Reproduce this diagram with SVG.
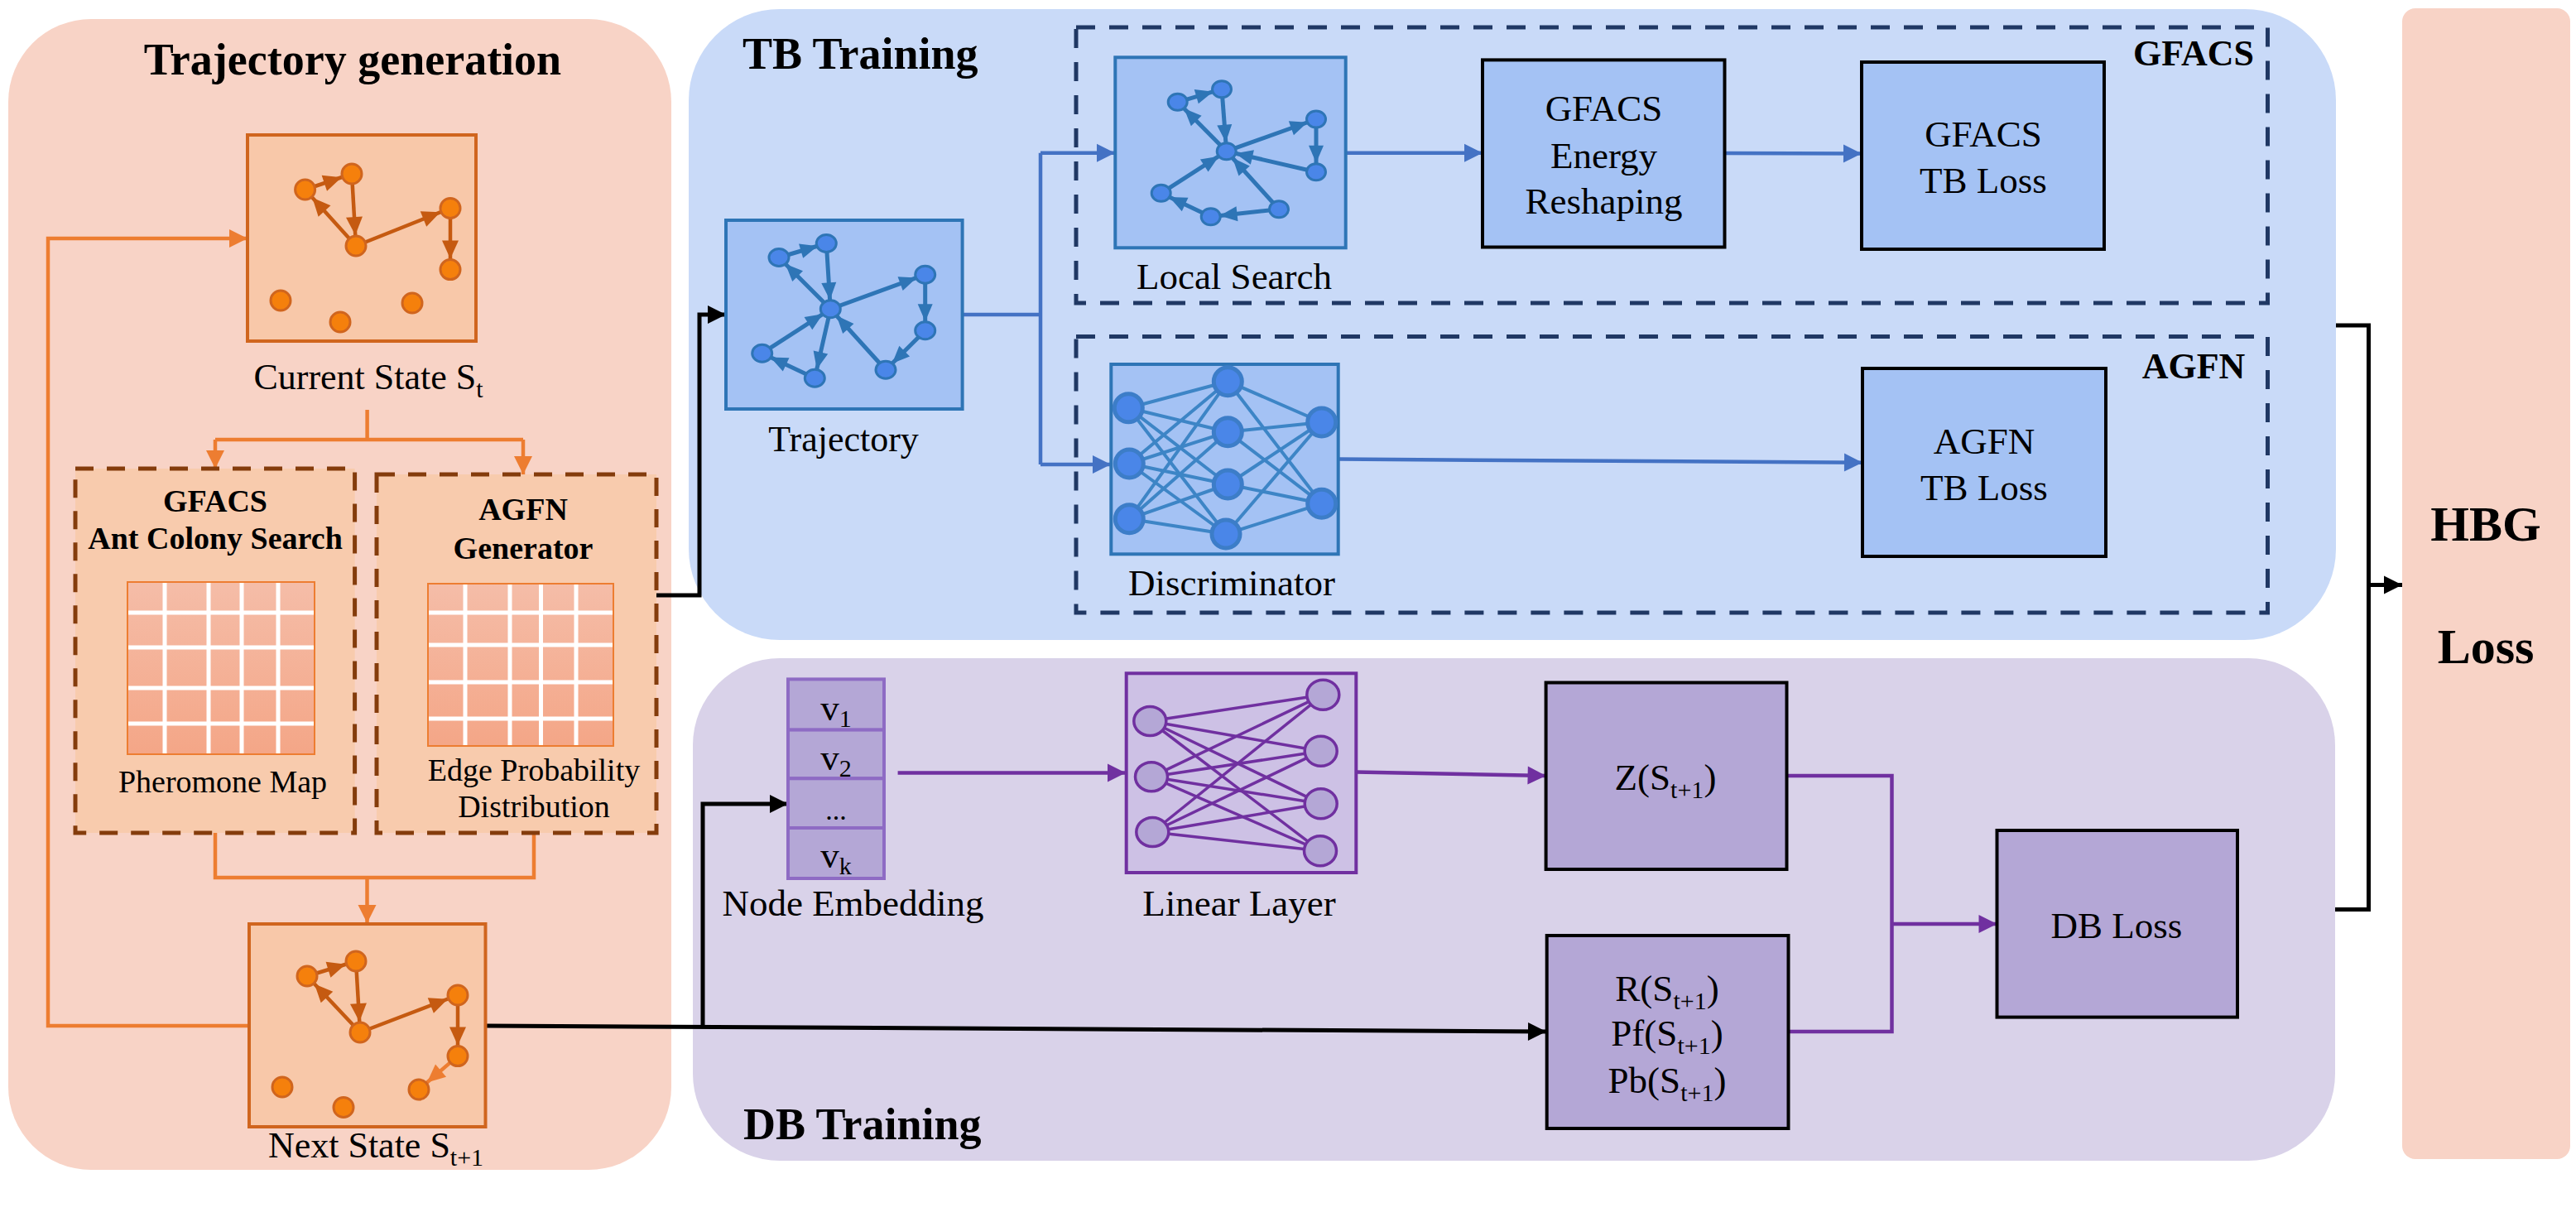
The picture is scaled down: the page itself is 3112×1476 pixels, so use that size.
<svg xmlns="http://www.w3.org/2000/svg" width="3112" height="1476" viewBox="0 0 3112 1476">
<defs>
<style>
.t{font-family:"Liberation Serif","Times New Roman",serif;fill:#000;}
.b{font-weight:bold;}
.c{text-anchor:middle;}
.panelP{fill:#F8D3C6;}
.panelB{fill:#C9DAF8;}
.panelV{fill:#D9D2E9;}
.state{fill:#F8C8A9;stroke:#D0651E;stroke-width:4;}
.on{fill:#F5800C;stroke:#D0651E;stroke-width:3;}
.oe{stroke:#C55A11;stroke-width:4.5;marker-end:url(#gO);}
.dashO{fill:#F8CBAD;stroke:#843C0C;stroke-width:5;stroke-dasharray:22 16;}
.dashN{fill:none;stroke:#203864;stroke-width:5;stroke-dasharray:23 17;}
.grid{fill:url(#gridG);stroke:#ED7D31;stroke-width:2;}
.gl{stroke:#fff;stroke-width:5;}
.bbox{fill:#A4C2F4;stroke:#2E75B6;stroke-width:4;}
.kbox{fill:#A4C2F4;stroke:#000;stroke-width:4;}
.bn{fill:#4A86E8;stroke:#2E75B6;stroke-width:3;}
.be{stroke:#2E75B6;stroke-width:5;marker-end:url(#gB);}
.dn{fill:#4A86E8;stroke:#3C7DC8;stroke-width:5;}
.de{stroke:#3D85C6;stroke-width:4;}
.vbox{fill:#B4A7D6;stroke:#000;stroke-width:4;}
.emb{fill:#B4A7D6;stroke:#8E6BC4;stroke-width:4;}
.ln{fill:#B4A7D6;stroke:#7030A0;stroke-width:3.5;}
.le{stroke:#7030A0;stroke-width:3.5;}
.cO{fill:none;stroke:#ED7D31;stroke-width:4.5;}
.cK{fill:none;stroke:#000;stroke-width:5;}
.cB{fill:none;stroke:#4472C4;stroke-width:4.5;}
.cV{fill:none;stroke:#7030A0;stroke-width:4.5;}
</style>
<linearGradient id="gridG" x1="0" y1="0" x2="0" y2="1">
<stop offset="0" stop-color="#F5BDA8"/>
<stop offset="1" stop-color="#F4A687"/>
</linearGradient>
<marker id="aO" markerUnits="userSpaceOnUse" markerWidth="22" markerHeight="22" refX="22" refY="11" orient="auto" overflow="visible"><path d="M0,0 L22,11 L0,22 z" fill="#ED7D31"/></marker>
<marker id="aK" markerUnits="userSpaceOnUse" markerWidth="22" markerHeight="22" refX="22" refY="11" orient="auto" overflow="visible"><path d="M0,0 L22,11 L0,22 z" fill="#000"/></marker>
<marker id="aB" markerUnits="userSpaceOnUse" markerWidth="22" markerHeight="22" refX="22" refY="11" orient="auto" overflow="visible"><path d="M0,0 L22,11 L0,22 z" fill="#4472C4"/></marker>
<marker id="aV" markerUnits="userSpaceOnUse" markerWidth="22" markerHeight="22" refX="22" refY="11" orient="auto" overflow="visible"><path d="M0,0 L22,11 L0,22 z" fill="#7030A0"/></marker>
<marker id="gO" markerUnits="userSpaceOnUse" markerWidth="22" markerHeight="20" refX="35" refY="10" orient="auto" overflow="visible"><path d="M0,0 L22,10 L0,20 z" fill="#C55A11"/></marker>
<marker id="gO2" markerUnits="userSpaceOnUse" markerWidth="22" markerHeight="20" refX="35" refY="10" orient="auto" overflow="visible"><path d="M0,0 L22,10 L0,20 z" fill="#ED7D31"/></marker>
<marker id="gB" markerUnits="userSpaceOnUse" markerWidth="21" markerHeight="18" refX="32" refY="9" orient="auto" overflow="visible"><path d="M0,0 L21,9 L0,18 z" fill="#2E75B6"/></marker>
</defs>
<rect width="3112" height="1476" fill="#fff"/>

<g id="panels">
<rect class="panelP" x="10" y="23" width="801" height="1390" rx="100"/>
<rect class="panelB" x="832" y="11" width="1990" height="762" rx="110"/>
<rect class="panelV" x="837" y="795" width="1984" height="607" rx="105"/>
<rect class="panelP" x="2902" y="10" width="203" height="1390" rx="16"/>
<text class="t b c" x="426" y="90" font-size="54">Trajectory generation</text>
<text class="t b" x="897" y="83" font-size="54">TB Training</text>
<text class="t b" x="898" y="1376" font-size="54">DB Training</text>
</g>

<g id="connectors">
<path class="cO" d="M443.6,495 V531 M260,531 H632"/>
<path class="cO" d="M260,531 V566" marker-end="url(#aO)"/>
<path class="cO" d="M632,531 V573" marker-end="url(#aO)"/>
<path class="cO" d="M260,1006 V1060 H645 V1006"/>
<path class="cO" d="M443.5,1060 V1115" marker-end="url(#aO)"/>
<path class="cO" d="M301,1239 H58 V288 H299" marker-end="url(#aO)"/>
<path class="cK" d="M793,719 H845 V380 H877" marker-end="url(#aK)"/>
<path class="cK" d="M586.5,1239 L1868,1246" marker-end="url(#aK)"/>
<path class="cK" d="M849,1240 V971 H952" marker-end="url(#aK)"/>
<path class="cK" d="M2822,393 H2861.5 V1098.5 H2821"/>
<path class="cK" d="M2861.5,706.6 H2902" marker-end="url(#aK)"/>
<path class="cB" d="M1162.6,380 H1257 M1257,184.7 V561"/>
<path class="cB" d="M1257,184.7 H1347" marker-end="url(#aB)"/>
<path class="cB" d="M1257,561 H1342" marker-end="url(#aB)"/>
<path class="cB" d="M1625.7,184.7 H1791" marker-end="url(#aB)"/>
<path class="cB" d="M2083.5,185 L2249,185.5" marker-end="url(#aB)"/>
<path class="cB" d="M1616.7,554.6 L2250,558.7" marker-end="url(#aB)"/>
<path class="cV" d="M1084.6,933.6 H1360" marker-end="url(#aV)"/>
<path class="cV" d="M1638,932.6 L1867.6,937" marker-end="url(#aV)"/>
<path class="cV" d="M2158.5,937 H2285.5 V1246 H2160.5"/>
<path class="cV" d="M2285.5,1116 H2412.5" marker-end="url(#aV)"/>
</g>

<g id="current-state">
<rect class="state" x="299" y="163" width="276" height="249"/>
<line class="oe" x1="368.6" y1="229" x2="425" y2="210"/>
<line class="oe" x1="425" y1="210" x2="430" y2="297"/>
<line class="oe" x1="430" y1="297" x2="368.6" y2="229"/>
<line class="oe" x1="430" y1="297" x2="544" y2="251.5"/>
<line class="oe" x1="544" y1="251.5" x2="544" y2="325.6"/>
<circle class="on" cx="368.6" cy="229" r="12"/>
<circle class="on" cx="425" cy="210" r="12"/>
<circle class="on" cx="544" cy="251.5" r="12"/>
<circle class="on" cx="430" cy="297" r="12"/>
<circle class="on" cx="544" cy="325.6" r="12"/>
<circle class="on" cx="339" cy="363" r="12"/>
<circle class="on" cx="411" cy="389" r="12"/>
<circle class="on" cx="498" cy="366" r="12"/>
<text class="t c" x="445" y="470" font-size="44">Current State S<tspan font-size="30" dy="10">t</tspan></text>
</g>

<g id="gfacs-ant-colony">
<rect class="dashO" x="91" y="566" width="337.6" height="440"/>
<text class="t b c" x="260" y="618" font-size="38">GFACS</text>
<text class="t b c" x="260" y="663" font-size="38">Ant Colony Search</text>
<rect class="grid" x="154" y="703" width="226" height="208"/>
<path class="gl" d="M199,704 V910 M252,704 V910 M292,704 V910 M336,704 V910 M155,740 H379 M155,782 H379 M155,831 H379 M155,874 H379"/>
<text class="t c" x="269" y="957" font-size="38">Pheromone Map</text>
</g>

<g id="agfn-generator">
<rect class="dashO" x="455" y="573" width="338" height="433"/>
<text class="t b c" x="632" y="628" font-size="38">AGFN</text>
<text class="t b c" x="632" y="675" font-size="38">Generator</text>
<rect class="grid" x="517" y="705" width="224" height="196"/>
<path class="gl" d="M562,706 V900 M616,706 V900 M653.5,706 V900 M696,706 V900 M518,740 H740 M518,779 H740 M518,824 H740 M518,868 H740"/>
<text class="t c" x="645" y="943" font-size="38">Edge Probability</text>
<text class="t c" x="645" y="987" font-size="38">Distribution</text>
</g>

<g id="next-state">
<rect class="state" x="301" y="1116" width="285.5" height="245"/>
<line class="oe" x1="371" y1="1179" x2="430" y2="1161"/>
<line class="oe" x1="430" y1="1161" x2="435" y2="1247"/>
<line class="oe" x1="435" y1="1247" x2="371" y2="1179"/>
<line class="oe" x1="435" y1="1247" x2="553" y2="1202"/>
<line class="oe" x1="553" y1="1202" x2="553" y2="1275.6"/>
<line x1="553" y1="1275.6" x2="506" y2="1316" stroke="#ED7D31" stroke-width="4.5" marker-end="url(#gO2)"/>
<circle class="on" cx="371" cy="1179" r="12"/>
<circle class="on" cx="430" cy="1161" r="12"/>
<circle class="on" cx="553" cy="1202" r="12"/>
<circle class="on" cx="435" cy="1247" r="12"/>
<circle class="on" cx="553" cy="1275.6" r="12"/>
<circle class="on" cx="341" cy="1313" r="12"/>
<circle class="on" cx="415" cy="1337.5" r="12"/>
<circle class="on" cx="506" cy="1316" r="12"/>
<text class="t c" x="454" y="1398" font-size="44">Next State S<tspan font-size="30" dy="10">t+1</tspan></text>
</g>

<g id="trajectory">
<rect class="bbox" x="877" y="266" width="285.6" height="228"/>
<line class="be" x1="941" y1="311" x2="998.3" y2="294"/>
<line class="be" x1="998.3" y1="294" x2="1003.3" y2="373.3"/>
<line class="be" x1="1003.3" y1="373.3" x2="941" y2="311"/>
<line class="be" x1="1003.3" y1="373.3" x2="1117.7" y2="331.7"/>
<line class="be" x1="1117.7" y1="331.7" x2="1117.7" y2="399.3"/>
<line class="be" x1="1117.7" y1="399.3" x2="1070" y2="446.7"/>
<line class="be" x1="1070" y1="446.7" x2="1003.3" y2="373.3"/>
<line class="be" x1="1003.3" y1="373.3" x2="984.3" y2="456.7"/>
<line class="be" x1="984.3" y1="456.7" x2="920.7" y2="426.7"/>
<line class="be" x1="920.7" y1="426.7" x2="1003.3" y2="373.3"/>
<ellipse class="bn" cx="941" cy="311" rx="12" ry="10.5"/>
<ellipse class="bn" cx="998.3" cy="294" rx="12" ry="10.5"/>
<ellipse class="bn" cx="1003.3" cy="373.3" rx="12" ry="10.5"/>
<ellipse class="bn" cx="1117.7" cy="331.7" rx="12" ry="10.5"/>
<ellipse class="bn" cx="1117.7" cy="399.3" rx="12" ry="10.5"/>
<ellipse class="bn" cx="1070" cy="446.7" rx="12" ry="10.5"/>
<ellipse class="bn" cx="984.3" cy="456.7" rx="12" ry="10.5"/>
<ellipse class="bn" cx="920.7" cy="426.7" rx="12" ry="10.5"/>
<text class="t c" x="1019" y="545" font-size="44">Trajectory</text>
</g>

<g id="gfacs-group">
<rect class="dashN" x="1300" y="33" width="1439.5" height="333"/>
<text class="t b c" x="2650" y="79" font-size="44">GFACS</text>
</g>

<g id="agfn-group">
<rect class="dashN" x="1300" y="406.6" width="1439.5" height="333.4"/>
<text class="t b c" x="2650" y="457" font-size="44">AGFN</text>
</g>

<g id="local-search">
<rect class="bbox" x="1347.3" y="69.3" width="278.4" height="230"/>
<line class="be" x1="1422.7" y1="123.3" x2="1476" y2="107.7"/>
<line class="be" x1="1476" y1="107.7" x2="1481.7" y2="182.7"/>
<line class="be" x1="1481.7" y1="182.7" x2="1422.7" y2="123.3"/>
<line class="be" x1="1481.7" y1="182.7" x2="1590" y2="144"/>
<line class="be" x1="1590" y1="144" x2="1590" y2="207.7"/>
<line class="be" x1="1590" y1="207.7" x2="1481.7" y2="182.7"/>
<line class="be" x1="1545" y1="252.7" x2="1481.7" y2="182.7"/>
<line class="be" x1="1545" y1="252.7" x2="1462.7" y2="261.7"/>
<line class="be" x1="1462.7" y1="261.7" x2="1402.7" y2="233.3"/>
<line class="be" x1="1402.7" y1="233.3" x2="1481.7" y2="182.7"/>
<ellipse class="bn" cx="1422.7" cy="123.3" rx="11.5" ry="10"/>
<ellipse class="bn" cx="1476" cy="107.7" rx="11.5" ry="10"/>
<ellipse class="bn" cx="1481.7" cy="182.7" rx="11.5" ry="10"/>
<ellipse class="bn" cx="1590" cy="144" rx="11.5" ry="10"/>
<ellipse class="bn" cx="1590" cy="207.7" rx="11.5" ry="10"/>
<ellipse class="bn" cx="1545" cy="252.7" rx="11.5" ry="10"/>
<ellipse class="bn" cx="1462.7" cy="261.7" rx="11.5" ry="10"/>
<ellipse class="bn" cx="1402.7" cy="233.3" rx="11.5" ry="10"/>
<text class="t c" x="1491" y="349" font-size="45">Local Search</text>
</g>

<g id="gfacs-energy-reshaping">
<rect class="kbox" x="1791" y="72.4" width="292.5" height="226.1"/>
<text class="t c" x="1937.5" y="146.4" font-size="45">GFACS</text>
<text class="t c" x="1937.5" y="203" font-size="45">Energy</text>
<text class="t c" x="1937.5" y="257.7" font-size="45">Reshaping</text>
</g>

<g id="gfacs-tb-loss">
<rect class="kbox" x="2249" y="75" width="293" height="226"/>
<text class="t c" x="2396" y="177" font-size="45">GFACS</text>
<text class="t c" x="2396" y="233" font-size="45">TB Loss</text>
</g>

<g id="discriminator">
<rect class="bbox" x="1342.3" y="440" width="274.4" height="229.3"/>
<g class="de">
<line x1="1363.3" y1="492.7" x2="1483.3" y2="460.7"/><line x1="1363.3" y1="492.7" x2="1483.3" y2="521.7"/><line x1="1363.3" y1="492.7" x2="1483.3" y2="585"/><line x1="1363.3" y1="492.7" x2="1481" y2="645"/>
<line x1="1364.3" y1="560" x2="1483.3" y2="460.7"/><line x1="1364.3" y1="560" x2="1483.3" y2="521.7"/><line x1="1364.3" y1="560" x2="1483.3" y2="585"/><line x1="1364.3" y1="560" x2="1481" y2="645"/>
<line x1="1364.3" y1="626.7" x2="1483.3" y2="460.7"/><line x1="1364.3" y1="626.7" x2="1483.3" y2="521.7"/><line x1="1364.3" y1="626.7" x2="1483.3" y2="585"/><line x1="1364.3" y1="626.7" x2="1481" y2="645"/>
<line x1="1483.3" y1="460.7" x2="1596.7" y2="510"/><line x1="1483.3" y1="460.7" x2="1596.7" y2="608.3"/>
<line x1="1483.3" y1="521.7" x2="1596.7" y2="510"/><line x1="1483.3" y1="521.7" x2="1596.7" y2="608.3"/>
<line x1="1483.3" y1="585" x2="1596.7" y2="510"/><line x1="1483.3" y1="585" x2="1596.7" y2="608.3"/>
<line x1="1481" y1="645" x2="1596.7" y2="510"/><line x1="1481" y1="645" x2="1596.7" y2="608.3"/>
</g>
<circle class="dn" cx="1363.3" cy="492.7" r="17"/>
<circle class="dn" cx="1364.3" cy="560" r="17"/>
<circle class="dn" cx="1364.3" cy="626.7" r="17"/>
<circle class="dn" cx="1483.3" cy="460.7" r="17"/>
<circle class="dn" cx="1483.3" cy="521.7" r="17"/>
<circle class="dn" cx="1483.3" cy="585" r="17"/>
<circle class="dn" cx="1481" cy="645" r="17"/>
<circle class="dn" cx="1596.7" cy="510" r="17"/>
<circle class="dn" cx="1596.7" cy="608.3" r="17"/>
<text class="t c" x="1488" y="719" font-size="45">Discriminator</text>
</g>

<g id="agfn-tb-loss">
<rect class="kbox" x="2250" y="445" width="294" height="227"/>
<text class="t c" x="2397" y="547.5" font-size="45">AGFN</text>
<text class="t c" x="2397" y="603.6" font-size="45">TB Loss</text>
</g>

<g id="node-embedding">
<rect class="emb" x="952" y="820.4" width="116" height="61.2"/>
<rect class="emb" x="952" y="881.6" width="116" height="58.7"/>
<rect class="emb" x="952" y="940.3" width="116" height="59.7"/>
<rect class="emb" x="952" y="1000" width="116" height="61"/>
<text class="t c" x="1010" y="870" font-size="45">v<tspan font-size="30" dy="8">1</tspan></text>
<text class="t c" x="1010" y="929.6" font-size="45">v<tspan font-size="30" dy="8">2</tspan></text>
<text class="t c" x="1010" y="990" font-size="34">...</text>
<text class="t c" x="1010" y="1048" font-size="45">v<tspan font-size="30" dy="8">k</tspan></text>
<text class="t c" x="1030.5" y="1106" font-size="45">Node Embedding</text>
</g>

<g id="linear-layer">
<rect x="1360.7" y="813.3" width="277.6" height="240.7" fill="#CDC1E5" stroke="#7030A0" stroke-width="4"/>
<g class="le">
<line x1="1389.3" y1="871" x2="1598.3" y2="839.3"/><line x1="1389.3" y1="871" x2="1595.7" y2="907.3"/><line x1="1389.3" y1="871" x2="1595.7" y2="970.7"/><line x1="1389.3" y1="871" x2="1595" y2="1027.7"/>
<line x1="1391" y1="938.3" x2="1598.3" y2="839.3"/><line x1="1391" y1="938.3" x2="1595.7" y2="907.3"/><line x1="1391" y1="938.3" x2="1595.7" y2="970.7"/><line x1="1391" y1="938.3" x2="1595" y2="1027.7"/>
<line x1="1392.3" y1="1005" x2="1598.3" y2="839.3"/><line x1="1392.3" y1="1005" x2="1595.7" y2="907.3"/><line x1="1392.3" y1="1005" x2="1595.7" y2="970.7"/><line x1="1392.3" y1="1005" x2="1595" y2="1027.7"/>
</g>
<ellipse class="ln" cx="1389.3" cy="871" rx="19.5" ry="17.5"/>
<ellipse class="ln" cx="1391" cy="938.3" rx="19.5" ry="17.5"/>
<ellipse class="ln" cx="1392.3" cy="1005" rx="19.5" ry="17.5"/>
<ellipse class="ln" cx="1598.3" cy="839.3" rx="19.5" ry="18"/>
<ellipse class="ln" cx="1595.7" cy="907.3" rx="19.5" ry="18"/>
<ellipse class="ln" cx="1595.7" cy="970.7" rx="19.5" ry="18"/>
<ellipse class="ln" cx="1595" cy="1027.7" rx="19.5" ry="18"/>
<text class="t c" x="1497" y="1106" font-size="45">Linear Layer</text>
</g>

<g id="z-state">
<rect class="vbox" x="1867.6" y="824.5" width="290.9" height="225.5"/>
<text class="t c" x="2012" y="954" font-size="45">Z(S<tspan font-size="30" dy="10">t+1</tspan><tspan dy="-10">)</tspan></text>
</g>

<g id="r-pf-pb">
<rect class="vbox" x="1868.7" y="1130" width="291.8" height="233"/>
<text class="t c" x="2014" y="1209" font-size="45">R(S<tspan font-size="30" dy="10">t+1</tspan><tspan dy="-10">)</tspan></text>
<text class="t c" x="2014" y="1263" font-size="45">Pf(S<tspan font-size="30" dy="10">t+1</tspan><tspan dy="-10">)</tspan></text>
<text class="t c" x="2014" y="1320" font-size="45">Pb(S<tspan font-size="30" dy="10">t+1</tspan><tspan dy="-10">)</tspan></text>
</g>

<g id="db-loss">
<rect class="vbox" x="2412.5" y="1003" width="290.5" height="225.6"/>
<text class="t c" x="2557" y="1133" font-size="45">DB Loss</text>
</g>

<g id="hbg-loss">
<text class="t b c" x="3003" y="653" font-size="60">HBG</text>
<text class="t b c" x="3003" y="801" font-size="60">Loss</text>
</g>
</svg>
